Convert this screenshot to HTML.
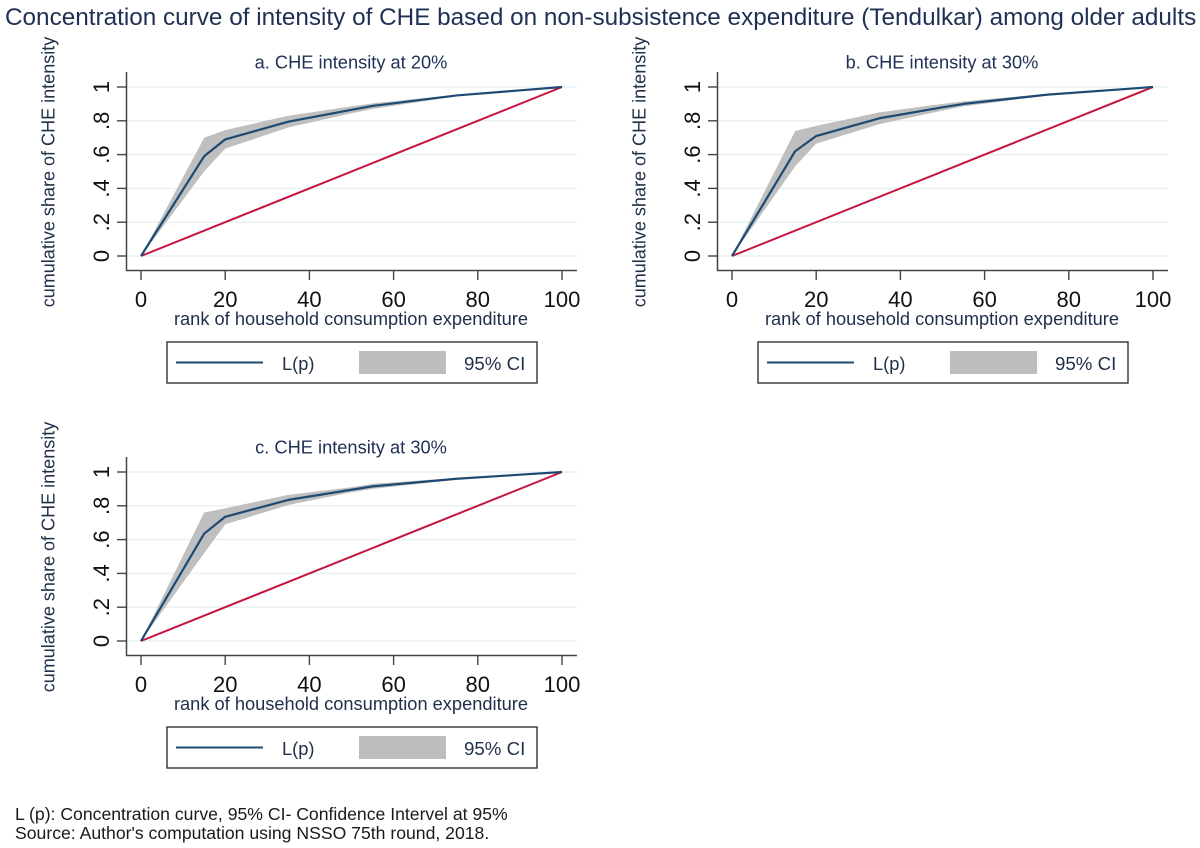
<!DOCTYPE html>
<html>
<head>
<meta charset="utf-8">
<style>
html,body{margin:0;padding:0;background:#fff;width:1200px;height:848px;overflow:hidden}
svg{display:block;font-family:"Liberation Sans",sans-serif;filter:blur(0.35px)}
</style>
</head>
<body>
<svg id="chart" width="1200" height="848" viewBox="0 0 1200 848" xmlns="http://www.w3.org/2000/svg">
<text x="5" y="25" font-size="24.3" fill="#1f3054">Concentration curve of intensity of CHE based on non-subsistence expenditure (Tendulkar) among older adults</text>
<text x="15" y="820" font-size="17.62" fill="#1a1a1a">L (p): Concentration curve, 95% CI- Confidence Intervel at 95%</text>
<text x="15" y="839" font-size="17.62" fill="#1a1a1a">Source: Author's computation using NSSO 75th round, 2018.</text>
</svg>
<script>
var xTicks = [0, 20, 40, 60, 80, 100];
var yTicks = [0, 0.2, 0.4, 0.6, 0.8, 1];
var yTickLabels = ['0', '.2', '.4', '.6', '.8', '1'];
var rankPoints = [0, 15, 20, 35, 50, 55, 75, 100];
var equalityLine = [0, 100];

var panelTitles = ['a. CHE intensity at 20%', 'b. CHE intensity at 30%', 'c. CHE intensity at 30%'];

var curveA = [0, 0.59, 0.69, 0.795, 0.865, 0.888, 0.95, 1];
var upperA = [0, 0.70, 0.745, 0.83, 0.885, 0.903, 0.955, 1];
var lowerA = [0, 0.50, 0.635, 0.76, 0.845, 0.87, 0.945, 1];

var curveB = [0, 0.62, 0.71, 0.815, 0.88, 0.90, 0.955, 1];
var upperB = [0, 0.74, 0.77, 0.85, 0.90, 0.915, 0.96, 1];
var lowerB = [0, 0.53, 0.665, 0.78, 0.86, 0.885, 0.95, 1];

var curveC = [0, 0.635, 0.735, 0.835, 0.895, 0.915, 0.96, 1];
var upperC = [0, 0.76, 0.785, 0.865, 0.91, 0.93, 0.965, 1];
var lowerC = [0, 0.52, 0.69, 0.805, 0.88, 0.90, 0.955, 1];

var svg = document.getElementById('chart');
var NS = 'http://www.w3.org/2000/svg';

function add(parent, tag, attrs, text) {
  var el = document.createElementNS(NS, tag);
  for (var k in attrs) el.setAttribute(k, attrs[k]);
  if (text !== undefined) el.textContent = text;
  parent.appendChild(el);
  return el;
}

function drawPanel(dx, dy, title, curve, upper, lower, key) {
  var x = function (v) { return dx + 141 + v * 4.21; };
  var y = function (v) { return dy + 256 - v * 169; };
  var g = add(svg, 'g', {});
  
  

  var t = add(g, 'text', { x: dx + 351, y: dy + 68.5, 'font-size': 18.25, fill: '#1f3054', 'text-anchor': 'middle' }, title);
  
  

  yTicks.forEach(function (v, i) {
    var grid = add(g, 'line', { x1: dx + 127, x2: dx + 577, y1: y(v), y2: y(v), stroke: '#eaf2f3', 'stroke-width': 1.6 });
    
    
    var tick = add(g, 'line', { x1: dx + 117, x2: dx + 127, y1: y(v), y2: y(v), stroke: '#444', 'stroke-width': 1.4 });
    
    
    var lab = add(g, 'text', { transform: 'translate(' + (dx + 109) + ',' + y(v) + ') rotate(-90)', 'font-size': 22, fill: '#111', 'text-anchor': 'middle' }, yTickLabels[i]);
    
    
  });

  xTicks.forEach(function (v) {
    var tick = add(g, 'line', { x1: x(v), x2: x(v), y1: dy + 270, y2: dy + 280, stroke: '#444', 'stroke-width': 1.4 });
    
    
    var lab = add(g, 'text', { x: x(v), y: dy + 307, 'font-size': 22, fill: '#111', 'text-anchor': 'middle' }, String(v));
    
    
  });

  var axes = add(g, 'path', { d: 'M' + (dx + 126.5) + ' ' + (dy + 72) + 'V' + (dy + 270.5) + 'H' + (dx + 577), fill: 'none', stroke: '#444', 'stroke-width': 1.5 });
  
  

  var pts = [];
  rankPoints.forEach(function (p, i) { pts.push(x(p) + ',' + y(upper[i])); });
  for (var i = rankPoints.length - 1; i >= 0; i--) pts.push(x(rankPoints[i]) + ',' + y(lower[i]));
  var band = add(g, 'polygon', { points: pts.join(' '), fill: '#bfbfbf' });
  
  

  var eq = add(g, 'polyline', { points: equalityLine.map(function (p) { return x(p) + ',' + y(p / 100); }).join(' '), fill: 'none', stroke: '#c5163f', 'stroke-width': 2 });
  
  

  var line = add(g, 'polyline', { points: rankPoints.map(function (p, i) { return x(p) + ',' + y(curve[i]); }).join(' '), fill: 'none', stroke: '#1d4a72', 'stroke-width': 2.2, 'stroke-linejoin': 'round' });
  
  

  var yt = add(g, 'text', { transform: 'translate(' + (dx + 54.5) + ',' + (dy + 172) + ') rotate(-90)', 'font-size': 18.05, fill: '#1f2f4a', 'text-anchor': 'middle' }, 'cumulative share of CHE intensity');
  
  

  var xt = add(g, 'text', { x: dx + 351, y: dy + 325, 'font-size': 18.25, fill: '#1f2f4a', 'text-anchor': 'middle' }, 'rank of household consumption expenditure');
  
  

  var lg = add(g, 'g', {});
  
  
  add(lg, 'rect', { x: dx + 167, y: dy + 342, width: 370, height: 41, fill: '#fff', stroke: '#333', 'stroke-width': 1.4 });
  var k1 = add(lg, 'line', { x1: dx + 176, x2: dx + 263, y1: dy + 362.5, y2: dy + 362.5, stroke: '#1d4a72', 'stroke-width': 2 });
  
  
  var l1 = add(lg, 'text', { x: dx + 282, y: dy + 370, 'font-size': 18.25, fill: '#1f2f4a' }, 'L(p)');
  
  
  var k2 = add(lg, 'rect', { x: dx + 359, y: dy + 351, width: 87, height: 23, fill: '#bdbdbd' });
  
  
  var l2 = add(lg, 'text', { x: dx + 464, y: dy + 370, 'font-size': 18.7, fill: '#1f2f4a' }, '95% CI');
  
  
}

drawPanel(0, 0, panelTitles[0], curveA, upperA, lowerA, 'a');
drawPanel(591, 0, panelTitles[1], curveB, upperB, lowerB, 'b');
drawPanel(0, 385, panelTitles[2], curveC, upperC, lowerC, 'c');
</script>
</body>
</html>
